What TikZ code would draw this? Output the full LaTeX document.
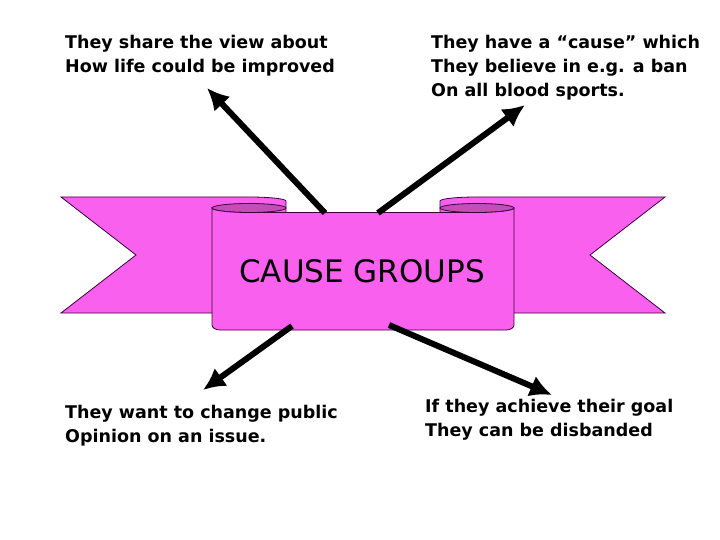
\documentclass[tikz,border=0pt]{standalone}
\usepackage{fontspec}
\setmainfont{DejaVu Sans}
\usetikzlibrary{arrows.meta}

\definecolor{ribbonpink}{RGB}{250,96,238}
\definecolor{ribbonfold}{RGB}{196,78,184}
\definecolor{ribbonline}{RGB}{60,0,60}

\tikzset{
  ribbon/.style={fill=ribbonpink, draw=ribbonline, line width=.8pt},
  fold/.style={fill=ribbonfold, draw=ribbonline, line width=.8pt},
  note/.style={anchor=north west, inner sep=0pt, align=left,
    font=\bfseries\fontsize{17.5}{24}\selectfont},
  pointer/.style={->, line width=6pt}
}

\begin{document}
\begin{tikzpicture}[x=1pt, y=-1pt, >={Latex[length=22pt,width=22pt]}]
\useasboundingbox[fill=white] (0,0) rectangle (720,540);

\draw [ribbon](61,197) -- (249,197) arc (270:360:37 and 4) -- (286,313) -- (61,313) -- (136,255) -- cycle;
\draw [ribbon](665,197) -- (477,197) arc (270:180:37 and 4) -- (440,313) -- (665,313) -- (590,255) -- cycle;
\draw [fold](249,208) ellipse (37 and 4.5);
\draw [fold](477,208) ellipse (37 and 4.5);
\draw [ribbon](212,208) -- (212,325) arc (180:90:8 and 5) -- (506,330) arc (90:0:8 and 5)
  -- (514,208) arc (0:90:37 and 4.5) -- (249,212.5) arc (90:180:37 and 4.5) -- cycle;
\node (title) [anchor=base, inner sep=0pt, font=\fontsize{31}{31}\selectfont] at (362,282) {CAUSE GROUPS};

\node (view) [note] at (65,34.7) {They share the view about\\How life could be improved};
\node (belief) [note] at (431,34.7) {They have a ``cause'' which\\They believe in e.g. a ban\\On all blood sports.};
\node (opinion) [note] at (65,404.7) {They want to change public\\Opinion on an issue.};
\node (disband) [note] at (425,399) {If they achieve their goal\\They can be disbanded};

\coordinate (viewfoot) at (325,213);
\coordinate (viewtip) at (207,88);
\coordinate (belieffoot) at (378,213);
\coordinate (belieftip) at (525,105);
\coordinate (opinionfoot) at (292,326);
\coordinate (opiniontip) at (203,390);
\coordinate (disbandfoot) at (389,325);
\coordinate (disbandtip) at (552,395);
\draw [pointer](viewfoot) -- (viewtip);
\draw [pointer](belieffoot) -- (belieftip);
\draw [pointer](opinionfoot) -- (opiniontip);
\draw [pointer](disbandfoot) -- (disbandtip);

\end{tikzpicture}
\end{document}
